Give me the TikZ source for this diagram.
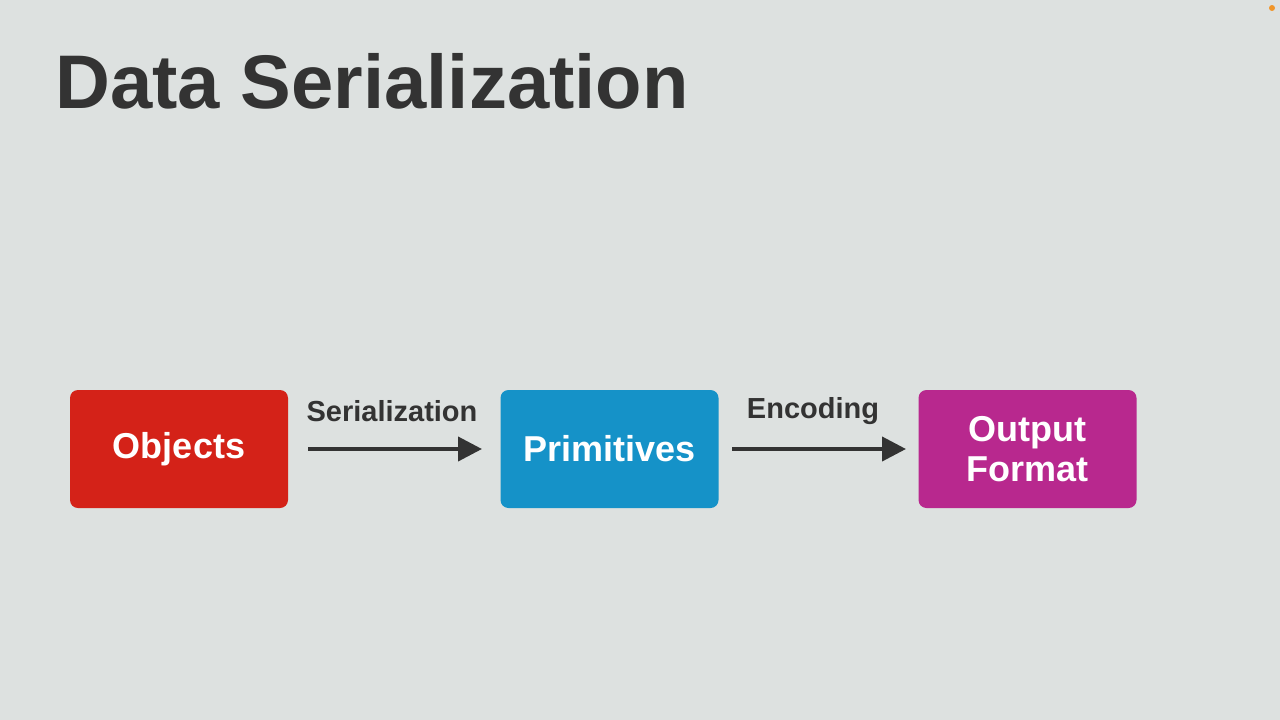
\documentclass[tikz,border=0pt]{standalone}
\usepackage{fontspec}
\setmainfont{Liberation Sans}
\usetikzlibrary{arrows.meta}
\definecolor{bg}{HTML}{DDE1E0}
\definecolor{ink}{HTML}{333333}
\definecolor{cred}{HTML}{D42218}
\definecolor{cblue}{HTML}{1592C8}
\definecolor{cmag}{HTML}{B8288E}
\definecolor{corange}{HTML}{F0952A}
\tikzset{
  box/.style={rounded corners=8pt, minimum width=218pt, minimum height=118pt, text=white, font=\fontsize{36}{40}\selectfont\bfseries, align=center, inner sep=0pt},
  lbl/.style={text=ink, font=\fontsize{29}{32}\selectfont\bfseries, inner sep=0pt},
  arr/.style={draw=ink, line width=4pt, -{Triangle[length=24pt,width=24pt]}}
}
\begin{document}
\begin{tikzpicture}[x=1pt,y=-1pt]
\fill[bg] (0,0) rectangle (1280,720);
\useasboundingbox (0,0) rectangle (1280,720);
\fill[corange] (1272,8) circle (3pt);
\node[anchor=base west, text=ink, font=\fontsize{76}{80}\selectfont\bfseries, inner sep=0pt] (title) at (55,108) {Data Serialization};
\node[box, fill=cred] (obj) at (179,449) {Objects};
\node[box, fill=cblue] (prim) at (609.5,449) {Primitives};
\node[box, fill=cmag] (out) at (1027.5,449) {Output\\Format};
\coordinate (a1) at (308,449); \coordinate (a2) at (482,449);
\coordinate (b1) at (732,449); \coordinate (b2) at (906,449);
\draw[arr] (a1) -- (a2);
\draw[arr] (b1) -- (b2);
\node[lbl] (l1) at (392,411) {Serialization};
\node[lbl] (l2) at (813,411) {Encoding};
\end{tikzpicture}
\end{document}
